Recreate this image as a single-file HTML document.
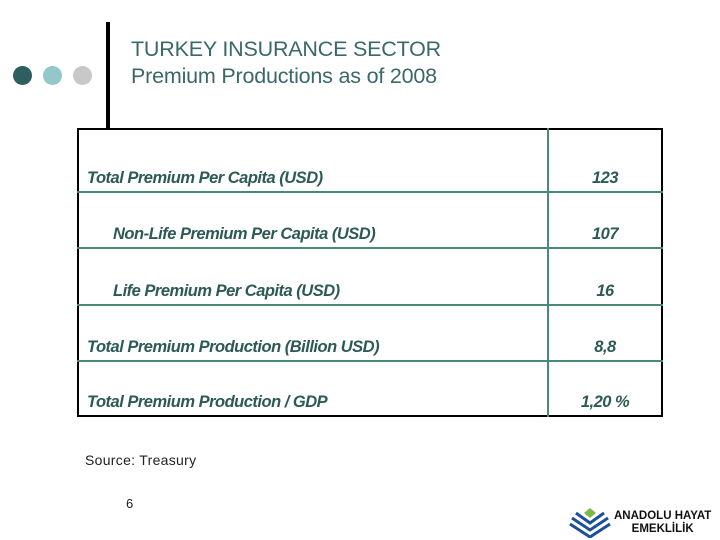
<!DOCTYPE html>
<html><head><meta charset="utf-8"><style>
body{margin:0;width:720px;height:540px;background:#fff;position:relative;overflow:hidden;font-family:"Liberation Sans",sans-serif}
.abs{position:absolute}
.dot{position:absolute;width:19px;height:19px;border-radius:50%;top:66px}
.title{left:131px;color:#3a6868;font-size:21.5px;line-height:27px;top:36px;letter-spacing:-0.2px}
table{position:absolute;left:77px;top:128px;width:586px;height:287px;border-collapse:collapse;border:2px solid #000}
td{border-top:2px solid #4a8a75;padding:0 0 3px 0;vertical-align:bottom;color:#2d5a55;font-style:italic;font-weight:bold;font-size:16.5px;letter-spacing:-0.5px}
td.v{border-left:2px solid #4a8a75;text-align:center;width:112px}
tr:first-child td{border-top:none}
.ind{padding-left:34px}
.l{padding-left:8px}
</style></head><body>
<div class="dot" style="left:13px;background:#2f5e60"></div>
<div class="dot" style="left:43px;background:#93c7c9"></div>
<div class="dot" style="left:73px;background:#c8c8c8"></div>
<div class="abs" style="left:106px;top:22px;width:4px;height:107px;background:#000"></div>
<div class="abs title">TURKEY INSURANCE SECTOR<br>Premium Productions as of 2008</div>
<table>
<tr style="height:63px"><td class="l">Total Premium Per Capita (USD)</td><td class="v">123</td></tr>
<tr style="height:56px"><td class="ind">Non-Life Premium Per Capita (USD)</td><td class="v">107</td></tr>
<tr style="height:57px"><td class="ind">Life Premium Per Capita (USD)</td><td class="v">16</td></tr>
<tr style="height:56px"><td class="l">Total Premium Production (Billion USD)</td><td class="v">8,8</td></tr>
<tr style="height:55px"><td class="l">Total Premium Production / GDP</td><td class="v">1,20 %</td></tr>
</table>
<div class="abs" style="left:85px;top:452px;font-size:14px;color:#222;letter-spacing:0.3px">Source: Treasury</div>
<div class="abs" style="left:126px;top:496px;font-size:13px;color:#222">6</div>
<svg class="abs" style="left:568px;top:508px" width="44" height="30" viewBox="0 0 44 30">
<polygon points="22,0 28,5 22,10 16,5" fill="#7bb84a"/>
<polyline points="4,10 22,22 40,10" fill="none" stroke="#1e4f9a" stroke-width="3"/>
<polyline points="8,5 22,15 36,5" fill="none" stroke="#1e4f9a" stroke-width="3"/>
<polyline points="2,16 22,29 42,16" fill="none" stroke="#1e4f9a" stroke-width="3"/>
</svg>
<div class="abs" style="left:614px;top:510px;font-size:11.5px;font-weight:900;line-height:13px;text-align:center;color:#111">ANADOLU HAYAT<br>EMEKLİLİK</div>
</body></html>
